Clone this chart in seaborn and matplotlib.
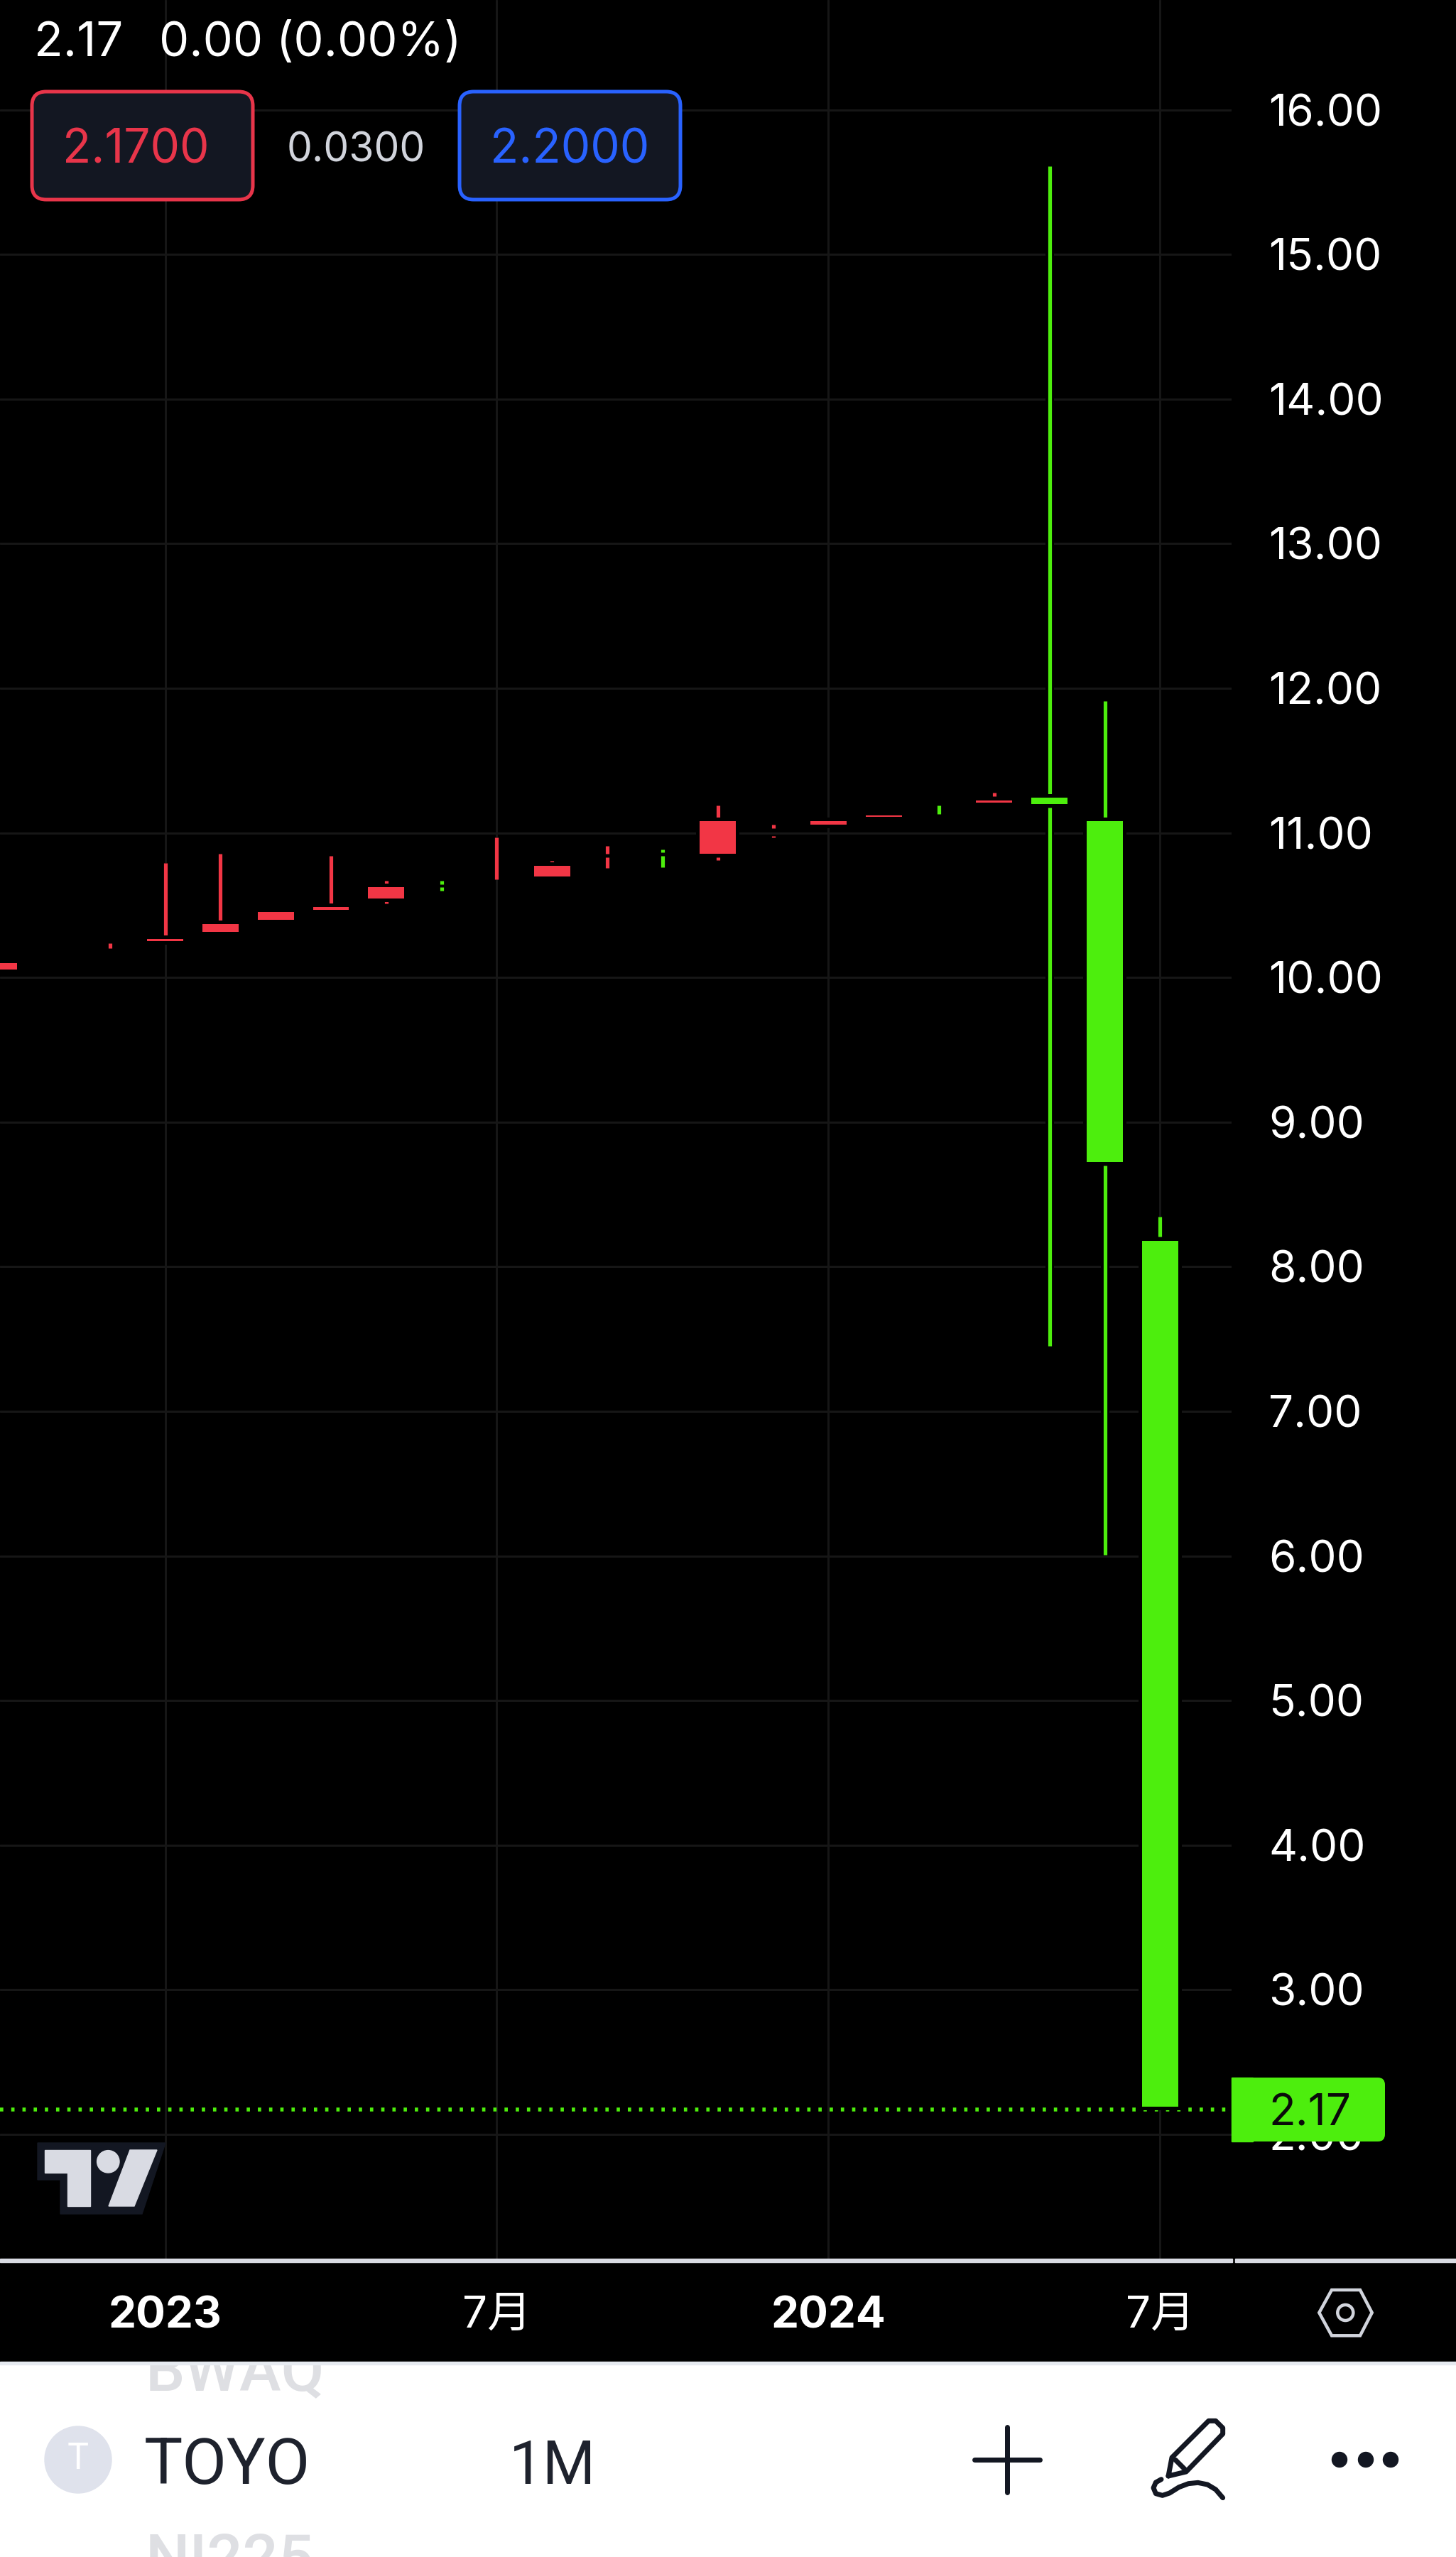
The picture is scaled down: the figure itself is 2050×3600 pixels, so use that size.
import numpy as np
import pandas as pd
import matplotlib
matplotlib.use("Agg")
import matplotlib.pyplot as plt
import matplotlib.patheffects as pe
from matplotlib.patches import Rectangle, FancyBboxPatch, Polygon, Circle
import seaborn as sns

# -----------------------------------------------------
# Data (month 0 = Jan 2023)
# -----------------------------------------------------
wick_month = [-1, 0, 1, 3, 4, 4, 5, 5, 6, 7, 8, 8, 9, 9, 10, 10, 11, 11, 14, 15, 16, 16, 17, 17, 18]
wick_high = [10.235, 10.79, 10.855, 10.84, 10.67, 10.525, 10.67, 10.625, 10.97, 10.805, 10.91, 10.83,
             10.885, 10.84, 11.19, 10.83, 11.055, 10.98, 11.19, 11.28, 15.61, 11.175, 11.91, 8.70, 8.345]
wick_low = [10.20, 10.28, 10.395, 10.50, 10.65, 10.51, 10.645, 10.60, 10.68, 10.797, 10.855, 10.755,
            10.865, 10.76, 11.105, 10.81, 11.03, 10.97, 11.13, 11.255, 11.27, 7.45, 11.105, 6.01, 8.21]
wick_side = ["down", "down", "down", "down", "down", "down", "up", "up", "down", "down", "down", "down",
             "up", "up", "down", "down", "down", "down", "up", "down", "up", "up", "up", "up", "up"]

body_month = [-3, 0, 1, 2, 3, 4, 7, 10, 12, 13, 15, 16, 17, 18]
body_top = [10.10, 10.265, 10.37, 10.455, 10.485, 10.625, 10.77, 11.08, 11.08, 11.12, 11.225, 11.245, 11.08, 8.18]
body_bottom = [10.055, 10.25, 10.315, 10.40, 10.47, 10.545, 10.70, 10.855, 11.055, 11.112, 11.21, 11.20, 8.725, 2.19]
body_side = ["down"] * 11 + ["up"] * 3

last_price = 2.17
price_ticks = list(range(2, 17))
time_ticks = [0, 6, 12, 18]
time_labels = ["2023", "7月", "2024", "7月"]

RED = "#F23645"
GREEN = "#4DEE0D"
BLUE = "#2962FF"
GRID = "#161616"
PANEL = "#131722"
LIGHT = "#D9DBE3"
INK = "#1E222D"
PX = 0.72  # points per pixel at dpi 100

sns.set_theme(style="dark", rc={"figure.facecolor": "black", "axes.facecolor": "black"})
plt.rcParams["font.family"] = ["Inter", "Noto Sans CJK SC", "DejaVu Sans"]

fig = plt.figure(figsize=(20.5, 36), dpi=100, facecolor="black")


def make_overlay(z):
    a = fig.add_axes([0, 0, 1, 1], zorder=z)
    a.set_xlim(0, 2050)
    a.set_ylim(3600, 0)
    a.axis("off")
    a.patch.set_alpha(0)
    return a


# -----------------------------------------------------
# Bottom white toolbar, sits under the chart axes
# -----------------------------------------------------
bg = make_overlay(0)
bg.add_patch(Rectangle((0, 3327), 2050, 273, color="white", zorder=1))
bg.text(205, 3366, "BWAQ", fontsize=88 * PX, color="#DEDFE3", family="Roboto", fontweight="medium", zorder=2)
bg.text(205, 3630, "NI225", fontsize=88 * PX, color="#DEDFE3", family="Roboto", fontweight="medium", zorder=2)
bg.add_patch(Rectangle((0, 3182), 2050, 145, color="black", zorder=3))
bg.add_patch(Rectangle((0, 3325), 2050, 4, color="#E6EAF0", zorder=4))

bg.add_patch(Circle((110, 3463), 47, color="#DFE2EC", zorder=2))
bg.text(110, 3463, "T", fontsize=50 * PX, color="white", ha="center", va="center", zorder=3)
bg.text(203, 3497, "TOYO", fontsize=91 * PX, color=INK, family="Roboto", zorder=2)
bg.text(717, 3497, "1M", fontsize=85 * PX, color=INK, family="Roboto", zorder=2)

# plus icon, pen icon and three dots
bg.plot([1372, 1464], [3463, 3463], color=PANEL, lw=7 * PX, solid_capstyle="round", zorder=2)
bg.plot([1418, 1418], [3417, 3509], color=PANEL, lw=7 * PX, solid_capstyle="round", zorder=2)
pen = np.array([[195, 318], [210, 240], [365, 85], [395, 85], [425, 115], [425, 140], [270, 300], [195, 318]])
bg.plot(1580 + pen[:, 0] / 3, 3380 + pen[:, 1] / 3, color=PANEL, lw=7 * PX, solid_joinstyle="round", zorder=2)
bg.plot(1580 + np.array([225, 270]) / 3, 3380 + np.array([250, 295]) / 3, color=PANEL, lw=7 * PX, zorder=2)
squiggle = np.array([[165, 332], [142, 345], [132, 368], [142, 392], [170, 400], [200, 390], [240, 365],
                     [280, 350], [320, 346], [360, 354], [395, 375], [425, 410]])
bg.plot(1580 + squiggle[:, 0] / 3, 3380 + squiggle[:, 1] / 3, color=PANEL, lw=7 * PX,
        solid_capstyle="round", solid_joinstyle="round", zorder=2)
for cx in [1886, 1923, 1958]:
    bg.add_patch(Circle((cx, 3463), 10.5, color=PANEL, zorder=2))

# -----------------------------------------------------
# Candles
# -----------------------------------------------------
ax = fig.add_axes([0, (3600 - 3182) / 3600, 1734 / 2050, 3182 / 3600], zorder=1)
ax.set_facecolor("none")

wicks = pd.DataFrame({
    "segment": list(range(len(wick_month))) * 2,
    "month": wick_month * 2,
    "price": wick_high + wick_low,
    "side": wick_side * 2,
})
bodies = pd.DataFrame({"month": body_month, "top": body_top, "bottom": body_bottom, "side": body_side})
bodies["height"] = bodies["top"] - bodies["bottom"]

ax.axhline(last_price, color=GREEN, lw=5.5 * PX, linestyle=(0, (0.85, 2.02)), dash_capstyle="butt", zorder=1.5)

sns.lineplot(data=wicks, x="month", y="price", units="segment", estimator=None, hue="side",
             palette={"down": RED, "up": GREEN}, legend=False, sort=False, linewidth=5.2 * PX,
             solid_capstyle="butt", zorder=2,
             path_effects=[pe.Stroke(linewidth=12 * PX, foreground="black"), pe.Normal()], ax=ax)

for side, colour in [("down", RED), ("up", GREEN)]:
    part = bodies[bodies["side"] == side].sort_values("month")
    sns.barplot(data=part, x="month", y="height", native_scale=True, width=0.655, color=colour,
                saturation=1, errorbar=None, bottom=part["bottom"].values, linewidth=0, zorder=3,
                path_effects=[pe.Stroke(linewidth=10 * PX, foreground="black", joinstyle="miter"), pe.Normal()],
                ax=ax)

# pixel calibration: x = 232.5 + 77.83 * month, y = 3412.2 - 203.6 * price
ax.set_xlim(-232.5 / 77.83, (1734 - 232.5) / 77.83)
ax.set_ylim((3412.2 - 3182) / 203.6, 3412.2 / 203.6)
ax.set_xlabel("")
ax.set_ylabel("")
for s in ax.spines.values():
    s.set_visible(False)

ax.grid(True, color=GRID, lw=3 * PX)
ax.set_axisbelow(True)
ax.yaxis.tick_right()
ax.set_yticks(price_ticks)
ax.set_yticklabels([f"{v:.2f}" for v in price_ticks])
ax.tick_params(axis="y", length=0, pad=52 * PX, labelsize=62 * PX, labelcolor="white")
ax.set_xticks(time_ticks)
ax.set_xticklabels(time_labels)
ax.tick_params(axis="x", length=0, pad=50 * PX, labelsize=62 * PX, labelcolor="white")
for lab in ax.get_xticklabels():
    lab.set_fontweight("bold" if lab.get_text().startswith("20") else "normal")

# -----------------------------------------------------
# Things drawn on top: header, price tag, logo, axis line
# -----------------------------------------------------
top = make_overlay(2)
top.text(48, 79, "2.17", fontsize=67 * PX, color="white")
top.text(224, 79, "0.00 (0.00%)", fontsize=67 * PX, color="white")

for x0, x1, edge, label, tx in [(45, 356, "#E8354A", "2.1700", 88), (647, 958, BLUE, "2.2000", 690)]:
    top.add_patch(FancyBboxPatch((x0, 129), x1 - x0, 152, boxstyle="round,pad=0,rounding_size=20",
                                 facecolor=PANEL, edgecolor=edge, lw=5 * PX))
    top.text(tx, 230, label, fontsize=66 * PX, color=edge)
top.text(404, 227, "0.0300", fontsize=57 * PX, color="#D1D4DC")

top.add_patch(FancyBboxPatch((1734, 2925), 216, 90, boxstyle="round,pad=0,rounding_size=10",
                             facecolor=GREEN, edgecolor="none"))
top.add_patch(Rectangle((1734, 2925), 30, 90, color=GREEN))
top.text(1786, 2970, "2.17", fontsize=62 * PX, color="#0A0A0A", va="center_baseline")

# TradingView style logo
top.add_patch(Polygon([(53, 3017), (233, 3017), (200, 3117), (85, 3117), (85, 3069), (53, 3069)], color=PANEL))
top.add_patch(Polygon([(63, 3027), (127, 3027), (127, 3106), (95, 3106), (95, 3059), (63, 3059)], color=LIGHT))
top.add_patch(Circle((152.3, 3043.3), 15.7, color=LIGHT))
top.add_patch(Polygon([(183, 3027), (221, 3027), (189, 3106), (153, 3106)], color=LIGHT))

# line under the plot, with the small break at the price axis
top.add_patch(Rectangle((0, 3180), 1735, 5, color=LIGHT))
top.add_patch(Rectangle((1739, 3180), 311, 5, color=LIGHT))

# settings hexagon
top.add_patch(Polygon([(1875, 3224), (1915, 3224), (1931.7, 3256), (1915, 3288.3), (1875, 3288.3), (1857.3, 3256)],
                      facecolor="none", edgecolor="#D1D4DC", lw=4.5 * PX))
top.add_patch(Circle((1894.3, 3256), 11, facecolor="none", edgecolor="#D1D4DC", lw=4.5 * PX))

fig.savefig("out.png", dpi=100, facecolor="black")
